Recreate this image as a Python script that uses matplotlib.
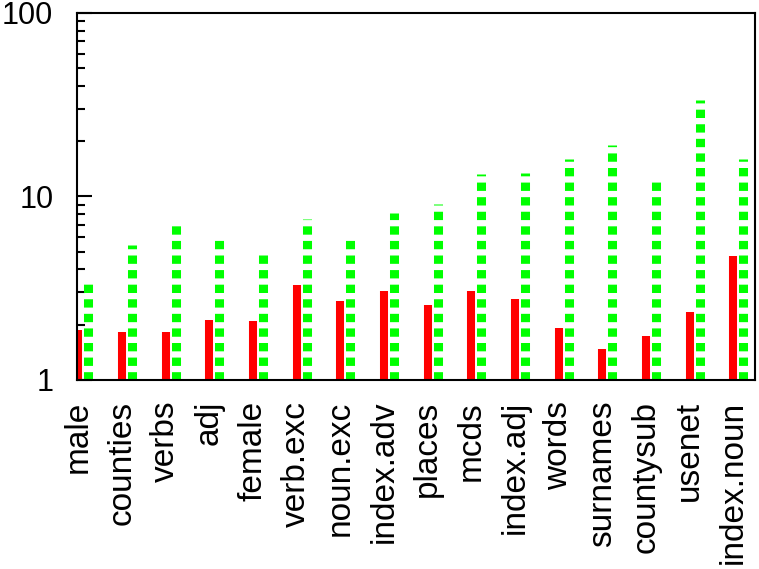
import numpy as np
import matplotlib
import matplotlib.pyplot as plt

matplotlib.use('Agg')
plt.rcParams['font.family'] = ['Liberation Sans', 'DejaVu Sans']
plt.rcParams['lines.scale_dashes'] = False

categories = ['male', 'counties', 'verbs', 'adj', 'female', 'verb.exc',
              'noun.exc', 'index.adv', 'places', 'mcds', 'index.adj',
              'words', 'surnames', 'countysub', 'usenet', 'index.noun']
red_values = [1.87, 1.83, 1.82, 2.12, 2.09, 3.28, 2.69, 3.04,
              2.55, 3.04, 2.75, 1.91, 1.47, 1.74, 2.34, 4.74]
green_values = [3.37, 5.42, 7.05, 5.84, 4.86, 7.57, 5.84, 8.10,
                9.10, 13.3, 13.5, 16.0, 19.0, 12.1, 33.6, 16.0]

x = np.arange(len(categories))

fig = plt.figure(figsize=(7.59, 5.69), dpi=100)
ax = fig.add_axes((0.1014, 0.3322, 0.8933, 0.645))

red = ax.vlines(x, 1, red_values, colors='#ff0000', linewidth=5.8)
red.set_capstyle('butt')
green = ax.vlines(x + 0.23, 1, green_values, colors='#00ff00', linewidth=6.5,
                  linestyles=[(0, (6.0, 4.5))])
green.set_capstyle('butt')

ax.set_yscale('log')
ax.set_ylim(1, 100)
ax.set_xlim(-0.034, 15.5)

ax.set_yticks([1, 10, 100])
ax.set_yticklabels(['1', '10', '100'], fontsize=22)
ax.tick_params(axis='y', which='major', direction='in', length=11, width=1.5, pad=17)
ax.tick_params(axis='y', which='minor', direction='in', length=6, width=1.5)
ax.yaxis.set_minor_formatter(matplotlib.ticker.NullFormatter())

ax.set_xticks(x)
ax.set_xticklabels(categories, rotation=90, fontsize=24, ha='center', va='top')
ax.tick_params(axis='x', length=0, pad=15)

for spine in ax.spines.values():
    spine.set_linewidth(1.5)

fig.savefig('out.png', dpi=100)
